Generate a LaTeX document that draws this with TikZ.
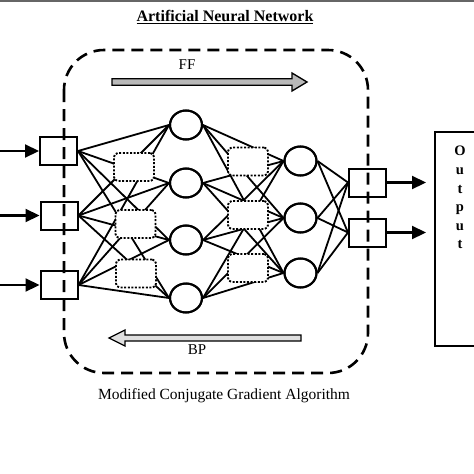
\documentclass[tikz,border=0pt]{standalone}
\usepackage{fontspec}
\setmainfont{Liberation Serif}
\usetikzlibrary{shapes.geometric,arrows.meta}
\begin{document}
\begin{tikzpicture}[x=1pt,y=-1pt,
  inbox/.style={draw, line width=2pt, minimum width=37pt, minimum height=28pt, inner sep=0pt},
  neuron/.style={draw, ellipse, line width=2pt, fill=white, minimum width=32pt, minimum height=29pt, inner sep=0pt},
  wbox/.style={draw, dash pattern=on 2pt off 1.6pt, line width=1.9pt, rounded corners=4pt, fill=white, minimum width=40pt, minimum height=28pt, inner sep=0pt},
  link/.style={line width=1.8pt},
  ioarrow/.style={line width=2.2pt, -{Triangle[length=14pt,width=13pt]}},
  lbl/.style={font=\fontsize{15}{18}\selectfont, inner sep=0pt},
  bigarrow/.style={draw, line width=1.3pt}
]
\useasboundingbox (0,0) rectangle (474,474);
\fill[white] (0,0) rectangle (474,474);
\draw[gray!80!black, line width=2pt] (0,1) -- (474,1);

% title
\node[font=\bfseries\fontsize{16}{19}\selectfont, inner sep=0pt] (title) at (225,17) {\underline{Artificial Neural Network}};

% dashed frame
\draw[line width=2.6pt, dash pattern=on 12pt off 7pt, rounded corners=40pt] (64,50) rectangle (368,373);

% FF / BP arrows
\draw[bigarrow, fill=gray!55] (112,78.7) -- (292,78.7) -- (292,73) -- (307,82) -- (292,91) -- (292,85.3) -- (112,85.3) -- cycle;
\node[lbl] (ff) at (187,65) {FF};
\draw[bigarrow, fill=gray!25] (301,335) -- (125,335) -- (125,330) -- (109,338) -- (125,346) -- (125,341) -- (301,341) -- cycle;
\node[lbl] (bp) at (197,350) {BP};

\node[lbl, font=\fontsize{15.5}{18}\selectfont] (alg) at (224,396) {Modified Conjugate Gradient Algorithm};

% input boxes
\node[inbox] (i1) at (58.5,151) {};
\node[inbox] (i2) at (59,215.5) {};
\node[inbox] (i3) at (59,285) {};
\coordinate (s1) at (0,151);
\coordinate (s2) at (0,215.5);
\coordinate (s3) at (0,285);

% hidden layer 1
\node[neuron] (a1) at (186,125) {};
\node[neuron] (a2) at (186,183) {};
\node[neuron] (a3) at (186,240) {};
\node[neuron] (a4) at (186,298) {};

% hidden layer 2
\node[neuron] (b1) at (300.5,161) {};
\node[neuron] (b2) at (300.5,218) {};
\node[neuron] (b3) at (300.5,273) {};

% output boxes
\node[inbox] (o1) at (367.5,182.5) {};
\node[inbox] (o2) at (367.5,232.5) {};
\coordinate (t1) at (426,182.5);
\coordinate (t2) at (426,232.5);

% connections
\foreach \i in {1,2,3}{
  \foreach \j in {1,2,3,4}{
    \draw[link] (i\i.east) -- (a\j.west);
  }
}
\foreach \i in {1,2,3,4}{
  \foreach \j in {1,2,3}{
    \draw[link] (a\i.east) -- (b\j.west);
  }
}
\foreach \i in {1,2,3}{
  \foreach \j in {1,2}{
    \draw[link] (b\i.east) -- (o\j.west);
  }
}

% weight boxes
\node[wbox] (w1) at (134,167) {};
\node[wbox] (w2) at (135.5,224) {};
\node[wbox] (w3) at (136,273.5) {};
\node[wbox] (w4) at (248,161.5) {};
\node[wbox] (w5) at (248,215) {};
\node[wbox] (w6) at (248,268) {};

% redraw neurons on top
\foreach \n in {a1,a2,a3,a4,b1,b2,b3}{
  \draw[line width=2pt] (\n.center) ellipse (16pt and 14.5pt);
}

% arrows in / out
\draw[ioarrow] (s1) -- (i1);
\draw[ioarrow] (s2) -- (i2);
\draw[ioarrow] (s3) -- (i3);
\draw[ioarrow] (o1) -- (t1);
\draw[ioarrow] (o2) -- (t2);

% output box
\node[draw, line width=2pt, minimum width=60pt, minimum height=214pt, anchor=north west, inner sep=0pt] (out) at (434,131) {};
\node[font=\bfseries\fontsize{14.5}{18.6}\selectfont, align=center, inner sep=0pt, anchor=north] (outtxt) at (460,146) {O\\u\\t\\p\\u\\t};
\end{tikzpicture}
\end{document}
